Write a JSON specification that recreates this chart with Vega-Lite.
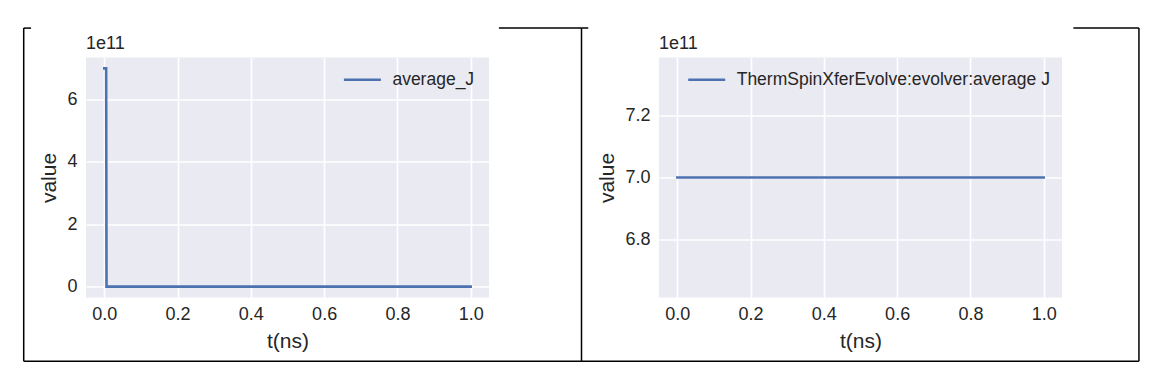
{
  "$schema": "https://vega.github.io/schema/vega-lite/v6.json",
  "background": "white",
  "autosize": {"type": "pad"},
  "padding": {"left": 22, "top": 26.5, "right": 0, "bottom": 0},
  "bounds": "flush",
  "spacing": 170,
  "config": {
    "font": "Liberation Sans",
    "view": {"fill": "#EAEAF2", "stroke": null},
    "axis": {
      "domain": false, "ticks": false, "tickSize": 0,
      "gridColor": "white", "gridWidth": 1.6, "gridOpacity": 1,
      "labelFont": "Liberation Sans", "labelFontSize": 18, "labelColor": "#262626", "labelFlush": false,
      "titleFont": "Liberation Sans", "titleFontSize": 21, "titleFontWeight": "normal", "titleColor": "#262626"
    },
    "axisX": {"labelPadding": 8, "titlePadding": 7},
    "axisY": {"labelPadding": 9, "titlePadding": 7},
    "legend": {
      "title": null, "orient": "none", "padding": 0,
      "symbolType": "stroke", "symbolSize": 1369, "symbolStrokeWidth": 2.6,
      "labelFont": "Liberation Sans", "labelFontSize": 17.5, "labelColor": "#262626",
      "labelOffset": 10, "labelLimit": 0
    },
    "title": {"anchor": "start", "frame": "group", "font": "Liberation Sans", "fontSize": 18, "fontWeight": "normal", "color": "#262626", "baseline": "alphabetic", "offset": -25.75}
  },
  "datasets": {
    "left": [
      {"t": 0, "value": 700000000000, "series": "average_J"},
      {"t": 0.005, "value": 700000000000, "series": "average_J"},
      {"t": 0.006, "value": 0, "series": "average_J"},
      {"t": 1.0, "value": 0, "series": "average_J"}
    ],
    "right": [
      {"t": 0, "value": 700000000000, "series": "ThermSpinXferEvolve:evolver:average J"},
      {"t": 1.0, "value": 700000000000, "series": "ThermSpinXferEvolve:evolver:average J"}
    ]
  },
  "resolve": {
    "scale": {"x": "independent", "y": "independent", "color": "independent"},
    "legend": {"color": "independent"}
  },
  "hconcat": [
    {
      "width": 403, "height": 240,
      "title": "1e11",
      "layer": [
        {
          "data": {"name": "left"},
          "mark": {"type": "line", "strokeWidth": 2.6, "strokeCap": "square"},
          "encoding": {
            "x": {"field": "t", "type": "quantitative", "scale": {"domain": [-0.05, 1.05], "nice": false, "zero": false},
                  "axis": {"title": "t(ns)", "values": [0, 0.2, 0.4, 0.6, 0.8, 1.0], "format": ".1f"}},
            "y": {"field": "value", "type": "quantitative", "scale": {"domain": [-35000000000, 735000000000], "nice": false, "zero": false},
                  "axis": {"title": "value", "values": [0, 200000000000, 400000000000, 600000000000], "labelExpr": "format(datum.value / 1e11, '.0f')"}},
            "color": {"field": "series", "type": "nominal", "scale": {"range": ["#4C72B0"]},
                      "legend": {"legendX": 256.4, "legendY": 2.3}}
          }
        },
        {
          "data": {"values": [{}]},
          "mark": {"type": "rule", "color": "black", "strokeWidth": 1.5},
          "encoding": {
            "x": {"datum": -0.22, "type": "quantitative", "axis": {"title": "t(ns)", "values": [0, 0.2, 0.4, 0.6, 0.8, 1.0], "format": ".1f"}},
            "y": {"datum": -239700000000, "type": "quantitative", "axis": {"title": "value", "values": [0, 200000000000, 400000000000, 600000000000], "labelExpr": "format(datum.value / 1e11, '.0f')"}},
            "y2": {"datum": 829300000000}
          }
        },
        {
          "data": {"values": [{}]},
          "mark": {"type": "rule", "color": "black", "strokeWidth": 1.5},
          "encoding": {
            "x": {"datum": 1.3025, "type": "quantitative", "axis": {"title": "t(ns)", "values": [0, 0.2, 0.4, 0.6, 0.8, 1.0], "format": ".1f"}},
            "y": {"datum": -239700000000, "type": "quantitative", "axis": {"title": "value", "values": [0, 200000000000, 400000000000, 600000000000], "labelExpr": "format(datum.value / 1e11, '.0f')"}},
            "y2": {"datum": 829300000000}
          }
        },
        {
          "data": {"values": [{}]},
          "mark": {"type": "rule", "color": "black", "strokeWidth": 1.5},
          "encoding": {
            "x": {"datum": -0.22, "type": "quantitative", "axis": {"title": "t(ns)", "values": [0, 0.2, 0.4, 0.6, 0.8, 1.0], "format": ".1f"}},
            "x2": {"datum": 1.3025},
            "y": {"datum": -239700000000, "type": "quantitative", "axis": {"title": "value", "values": [0, 200000000000, 400000000000, 600000000000], "labelExpr": "format(datum.value / 1e11, '.0f')"}}
          }
        },
        {
          "data": {"values": [{}]},
          "mark": {"type": "rule", "color": "black", "strokeWidth": 1.5},
          "encoding": {
            "x": {"datum": -0.22, "type": "quantitative", "axis": {"title": "t(ns)", "values": [0, 0.2, 0.4, 0.6, 0.8, 1.0], "format": ".1f"}},
            "x2": {"datum": -0.2},
            "y": {"datum": 829300000000, "type": "quantitative", "axis": {"title": "value", "values": [0, 200000000000, 400000000000, 600000000000], "labelExpr": "format(datum.value / 1e11, '.0f')"}}
          }
        },
        {
          "data": {"values": [{}]},
          "mark": {"type": "rule", "color": "black", "strokeWidth": 1.5},
          "encoding": {
            "x": {"datum": 1.077, "type": "quantitative", "axis": {"title": "t(ns)", "values": [0, 0.2, 0.4, 0.6, 0.8, 1.0], "format": ".1f"}},
            "x2": {"datum": 1.321},
            "y": {"datum": 829300000000, "type": "quantitative", "axis": {"title": "value", "values": [0, 200000000000, 400000000000, 600000000000], "labelExpr": "format(datum.value / 1e11, '.0f')"}}
          }
        }
      ]
    },
    {
      "width": 403, "height": 240,
      "title": "1e11",
      "layer": [
        {
          "data": {"name": "right"},
          "mark": {"type": "line", "strokeWidth": 2.6, "strokeCap": "square"},
          "encoding": {
            "x": {"field": "t", "type": "quantitative", "scale": {"domain": [-0.05, 1.05], "nice": false, "zero": false},
                  "axis": {"title": "t(ns)", "values": [0, 0.2, 0.4, 0.6, 0.8, 1.0], "format": ".1f"}},
            "y": {"field": "value", "type": "quantitative", "scale": {"domain": [661500000000, 738500000000], "nice": false, "zero": false},
                  "axis": {"title": "value", "values": [680000000000, 700000000000, 720000000000], "labelExpr": "format(datum.value / 1e11, '.1f')"}},
            "color": {"field": "series", "type": "nominal", "scale": {"range": ["#4C72B0"]},
                      "legend": {"legendX": 27.7, "legendY": 2.3}}
          }
        },
        {
          "data": {"values": [{}]},
          "mark": {"type": "rule", "color": "black", "strokeWidth": 1.5},
          "encoding": {
            "x": {"datum": 1.26, "type": "quantitative", "axis": {"title": "t(ns)", "values": [0, 0.2, 0.4, 0.6, 0.8, 1.0], "format": ".1f"}},
            "y": {"datum": 641030000000, "type": "quantitative", "axis": {"title": "value", "values": [680000000000, 700000000000, 720000000000], "labelExpr": "format(datum.value / 1e11, '.1f')"}},
            "y2": {"datum": 747930000000}
          }
        },
        {
          "data": {"values": [{}]},
          "mark": {"type": "rule", "color": "black", "strokeWidth": 1.5},
          "encoding": {
            "x": {"datum": -0.2624, "type": "quantitative", "axis": {"title": "t(ns)", "values": [0, 0.2, 0.4, 0.6, 0.8, 1.0], "format": ".1f"}},
            "x2": {"datum": 1.26},
            "y": {"datum": 641030000000, "type": "quantitative", "axis": {"title": "value", "values": [680000000000, 700000000000, 720000000000], "labelExpr": "format(datum.value / 1e11, '.1f')"}}
          }
        },
        {
          "data": {"values": [{}]},
          "mark": {"type": "rule", "color": "black", "strokeWidth": 1.5},
          "encoding": {
            "x": {"datum": 1.081, "type": "quantitative", "axis": {"title": "t(ns)", "values": [0, 0.2, 0.4, 0.6, 0.8, 1.0], "format": ".1f"}},
            "x2": {"datum": 1.26},
            "y": {"datum": 747930000000, "type": "quantitative", "axis": {"title": "value", "values": [680000000000, 700000000000, 720000000000], "labelExpr": "format(datum.value / 1e11, '.1f')"}}
          }
        }
      ]
    }
  ]
}
